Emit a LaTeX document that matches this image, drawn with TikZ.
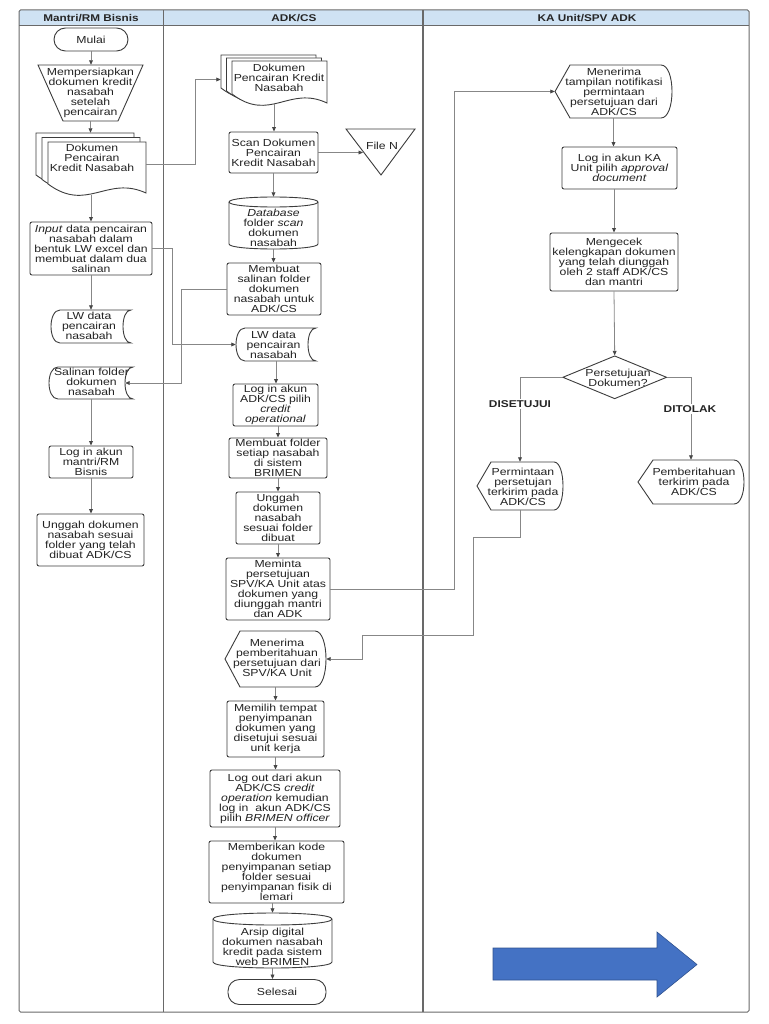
\documentclass[tikz,border=0pt]{standalone}
\usepackage{fontspec}
\setmainfont{Liberation Sans}[FakeStretch=1.2]
\usetikzlibrary{arrows.meta,calc,shapes.geometric}
\definecolor{headc}{RGB}{207,226,243}
\definecolor{framec}{RGB}{105,105,105}
\definecolor{boxc}{RGB}{60,60,60}
\definecolor{linec}{RGB}{135,135,135}
\definecolor{tipc}{RGB}{70,70,70}
\definecolor{bluef}{RGB}{68,114,196}
\definecolor{blued}{RGB}{47,82,143}
\definecolor{txtc}{RGB}{35,35,35}
\newcommand\shpdoc[4]{%
 \draw[shp] (#1,#2) -- (#3,#2) -- (#3,#4) .. controls ({#3-0.4*(#3-#1)},{#4-18}) and ({#1+0.4*(#3-#1)},{#4+20}) .. (#1,{#4-9}) -- cycle;}
\newcommand\shpmulti[6]{%
 \pgfmathsetmacro\rsA{#1-2*#5}\pgfmathsetmacro\rsB{#2-2*#6}\pgfmathsetmacro\rsC{#3-2*#5}\pgfmathsetmacro\rsD{#4-2*#6}%
 \shpdoc{\rsA}{\rsB}{\rsC}{\rsD}%
 \pgfmathsetmacro\rsA{#1-#5}\pgfmathsetmacro\rsB{#2-#6}\pgfmathsetmacro\rsC{#3-#5}\pgfmathsetmacro\rsD{#4-#6}%
 \shpdoc{\rsA}{\rsB}{\rsC}{\rsD}%
 \shpdoc{#1}{#2}{#3}{#4}}
\newcommand\shpstored[4]{%
 \draw[shp] ({#1+9},#2) -- (#3,#2) .. controls ({#3-10.67},#2) and ({#3-10.67},#4) .. (#3,#4) -- ({#1+9},#4) .. controls ({#1-3},#4) and ({#1-3},#2) .. cycle;}
\newcommand\shpdisplay[6]{%
 \draw[shp] (#1,{(#2+#4)/2}) -- ({#1+#5},#2) -- ({#3-#6},#2) .. controls ({#3+#6/3},#2) and ({#3+#6/3},#4) .. ({#3-#6},#4) -- ({#1+#5},#4) -- cycle;}
\newcommand\shpcyl[5]{%
 \draw[shp] (#1,{#2+#5}) .. controls (#1,{#2-#5/3}) and (#3,{#2-#5/3}) .. (#3,{#2+#5}) -- (#3,{#4-#5}) .. controls (#3,{#4+#5/3}) and (#1,{#4+#5/3}) .. (#1,{#4-#5}) -- cycle;
 \draw[shp, fill=none] (#1,{#2+#5}) .. controls (#1,{#2+#5*7/3}) and (#3,{#2+#5*7/3}) .. (#3,{#2+#5});}
\begin{document}
\begin{tikzpicture}[x=1pt,y=-1pt,
 every node/.style={text=txtc, font=\fontsize{10.2}{10}\selectfont},
 box/.style={draw=boxc, line width=0.9pt, rounded corners=2pt, fill=white, align=center, inner sep=0pt},
 txt/.style={align=center, inner sep=0pt},
 ghost/.style={inner sep=0pt, draw=none},
 shp/.style={draw=boxc, line width=0.9pt, fill=white},
 conn/.style={draw=linec, line width=0.8pt, -{Triangle[length=4.5pt,width=3.8pt,color=tipc]}},
 term/.style={box, rounded corners=11.5pt},
 lbl/.style={font=\bfseries\fontsize{9.9}{10}\selectfont, fill=white, inner sep=1.5pt, text=black!85},
 hdr/.style={font=\bfseries\fontsize{9.8}{10}\selectfont, text=black!85, inner sep=0pt}
]
\useasboundingbox (0,0) rectangle (768,1024);
% frame
\fill[headc] (19,10) rectangle (749,26);
\draw[framec, line width=1pt, rounded corners=1.5pt] (19,10) rectangle (749,1012);
\draw[framec, line width=1pt] (19,26) -- (749,26);
\draw[framec, line width=1pt] (163,10) -- (163,1012);
\draw[framec, line width=1.2pt] (423,10) -- (423,1012);
\node[hdr] (h1) at (91,18) {Mantri/RM Bisnis};
\node[hdr] (h2) at (294,18) {ADK/CS};
\node[hdr] (h3) at (587,18) {KA Unit/SPV ADK};

% ---- column 1
\node[term, minimum width=74pt, minimum height=23pt] (mulai) at (91,39.5) {Mulai};
\draw[shp] (38,65) -- (143,65) -- (118,121) -- (63,121) -- cycle;
\node[ghost, align=center, minimum width=105pt, minimum height=56pt] (prep) at (90.5,93) {Mempersiapkan\\dokumen kredit\\nasabah\\setelah\\pencairan};
\shpmulti{48}{142}{146}{193}{6}{4.5}
\node[ghost, minimum width=110pt, minimum height=62pt] (doc1) at (91,164) {};
\node[txt] (doc1t) at (92,158) {Dokumen\\Pencairan\\Kredit Nasabah};
\node[box, minimum width=122pt, minimum height=53pt] (input) at (91,248.5) {\textit{Input} data pencairan\\nasabah dalam\\bentuk LW excel dan\\membuat dalam dua\\salinan};
\shpstored{51}{310}{131}{343}
\node[ghost, minimum width=80pt, minimum height=33pt] (lw1) at (91,326.5) {};
\node[txt] (lw1t) at (89,326) {LW data\\pencairan\\nasabah};
\shpstored{49}{367}{133}{399}
\node[ghost, minimum width=84pt, minimum height=32pt] (salin1) at (91,383) {};
\node[txt] (salin1t) at (91.5,382) {Salinan folder\\dokumen\\nasabah};
\node[box, minimum width=84pt, minimum height=32pt] (login1) at (91,462) {Log in akun\\mantri/RM\\Bisnis};
\node[box, minimum width=107pt, minimum height=52pt] (unggah1) at (90.5,540) {Unggah dokumen\\nasabah sesuai\\folder yang telah\\dibuat ADK/CS};

% ---- column 2
\shpmulti{232}{61}{327}{103}{5.5}{3}
\node[ghost, minimum width=106pt, minimum height=49pt] (doc2) at (274,79.5) {};
\node[txt] (doc2t) at (279,78) {Dokumen\\Pencairan Kredit\\Nasabah};
\node[box, minimum width=89pt, minimum height=41pt] (scan) at (273.5,152.5) {Scan Dokumen\\Pencairan\\Kredit Nasabah};
\draw[shp] (346,129) -- (415,129) -- (381,175) -- cycle;
\node[txt] (fileN) at (382,146) {File N};
\coordinate (fileNin) at (363,152.5);
\shpcyl{229}{197}{318}{249}{5}
\node[ghost, minimum width=89pt, minimum height=52pt] (db) at (273.5,223) {};
\node[txt] (dbt) at (273.5,227.5) {\textit{Database}\\folder \textit{scan}\\dokumen\\nasabah};
\node[box, minimum width=94pt, minimum height=52pt] (salin) at (274,289) {Membuat\\salinan folder\\dokumen\\nasabah untuk\\ADK/CS};
\shpstored{236}{328}{316}{361}
\node[ghost, minimum width=80pt, minimum height=33pt] (lw2) at (276,344.5) {};
\node[txt] (lw2t) at (273.5,344.5) {LW data\\pencairan\\nasabah};
\node[box, minimum width=85pt, minimum height=42pt] (login2) at (275.5,405) {Log in akun\\ADK/CS pilih\\\textit{credit}\\\textit{operational}};
\node[box, minimum width=98pt, minimum height=40pt] (folder) at (278,458) {Membuat folder\\setiap nasabah\\di sistem\\BRIMEN};
\node[box, minimum width=84pt, minimum height=52pt] (unggah2) at (278,518) {Unggah\\dokumen\\nasabah\\sesuai folder\\dibuat};
\node[box, minimum width=104pt, minimum height=62pt] (minta) at (278,589) {Meminta\\persetujuan\\SPV/KA Unit atas\\dokumen yang\\diunggah mantri\\dan ADK};
\shpdisplay{225}{631}{326}{687}{15}{11}
\node[ghost, minimum width=101pt, minimum height=56pt] (terima) at (275.5,659) {};
\node[txt] (terimat) at (277,658) {Menerima\\pemberitahuan\\persetujuan dari\\SPV/KA Unit};
\node[box, minimum width=97pt, minimum height=56pt] (memilih) at (275.5,729) {Memilih tempat\\penyimpanan\\dokumen yang\\disetujui sesuai\\unit kerja};
\node[box, minimum width=130pt, minimum height=57pt] (logout) at (275,798.5) {Log out dari akun\\ADK/CS \textit{credit}\\\textit{operation} kemudian\\log in\ \ akun ADK/CS\\pilih \textit{BRIMEN officer}};
\node[box, minimum width=135pt, minimum height=62pt] (beri) at (276.5,872) {Memberikan kode\\dokumen\\penyimpanan setiap\\folder sesuai\\penyimpanan fisik di\\lemari};
\shpcyl{213}{913}{332}{968}{6}
\node[ghost, minimum width=119pt, minimum height=55pt] (arsip) at (272.5,940.5) {};
\node[txt] (arsipt) at (272.5,947) {Arsip digital\\dokumen nasabah\\kredit pada sistem\\web BRIMEN};
\node[term, minimum width=98pt, minimum height=25pt] (selesai) at (277,992) {Selesai};

% ---- column 3
\shpdisplay{555}{65}{672}{118}{15}{11}
\node[ghost, minimum width=117pt, minimum height=53pt] (notif) at (613.5,91.5) {};
\node[txt] (notift) at (614,92) {Menerima\\tampilan notifikasi\\permintaan\\persetujuan dari\\ADK/CS};
\node[box, minimum width=115pt, minimum height=42pt] (loginKA) at (619.5,168) {Log in akun KA\\Unit pilih \textit{approval}\\\textit{document}};
\node[box, minimum width=128pt, minimum height=58pt] (cek) at (614,262) {Mengecek\\kelengkapan dokumen\\yang telah diunggah\\oleh 2 staff ADK/CS\\dan mantri};
\node[shape=diamond, draw=boxc, line width=0.9pt, fill=white, inner sep=0pt, minimum width=104pt, minimum height=43pt] (dia) at (614.7,377.3) {};
\node[txt] (diat) at (618,377.5) {Persetujuan\\Dokumen?};
\shpdisplay{477}{462}{563}{510}{14}{9}
\node[ghost, minimum width=86pt, minimum height=48pt] (perm) at (520,486) {};
\node[txt] (permt) at (523,487) {Permintaan\\persetujan\\terkirim pada\\ADK/CS};
\shpdisplay{638}{460}{744}{504}{15}{10}
\node[ghost, minimum width=106pt, minimum height=44pt] (tolak) at (691,482) {};
\node[txt] (tolakt) at (694,481.5) {Pemberitahuan\\terkirim pada\\ADK/CS};
\draw[fill=bluef, draw=blued, line width=0.6pt] (493,948) -- (657,948) -- (657,932) -- (697,964.5) -- (657,997) -- (657,980) -- (493,980) -- cycle;

% ---- connectors
\draw[conn] (mulai.south) -- (mulai.south |- prep.north);
\draw[conn] (prep.south) -- (prep.south |- doc1.north);
\draw[conn] (doc1.south) -- (doc1.south |- input.north);
\draw[conn] (input.south) -- (input.south |- lw1.north);
\draw[conn] (salin1.south) -- (salin1.south |- login1.north);
\draw[conn] (login1.south) -- (login1.south |- unggah1.north);
\draw[conn] (doc1.east) -- ++(49.5,0) |- (doc2.west);
\draw[conn] (doc2.south) -- (doc2.south |- scan.north);
\draw[conn] (scan.east) -- (fileNin);
\draw[conn] (scan.south) -- (scan.south |- db.north);
\draw[conn] (db.south) -- (db.south |- salin.north);
\draw[conn] (input.east) -- ++(20,0) |- (lw2.west);
\draw[conn] (salin.west) -- ++(-45,0) |- ($(salin1.east)+(-8,0)$);
\draw[conn] (lw2.south) -- (lw2.south |- login2.north);
\draw[conn] (folder.north |- login2.south) -- (folder.north);
\draw[conn] (folder.south) -- (folder.south |- unggah2.north);
\draw[conn] (unggah2.south) -- (unggah2.south |- minta.north);
\draw[conn] (minta.east) -- ++(124,0) |- (notif.west);
\draw[conn] (perm.south) -- ++(0,27) -- ++(-47,0) -- ++(0,98) -- ++(-111,0) |- (terima.east);
\draw[conn] (terima.south) -- (terima.south |- memilih.north);
\draw[conn] (memilih.south) -- (memilih.south |- logout.north);
\draw[conn] (logout.south) -- (logout.south |- beri.north);
\draw[conn] (arsip.north |- beri.south) -- (arsip.north);
\draw[conn] (arsip.south) -- (arsip.south |- selesai.north);
\draw[conn] (notif.south) -- (notif.south |- loginKA.north);
\draw[conn] (cek.north |- loginKA.south) -- (cek.north);
\draw[conn] (cek.south) -- (dia.north);
\draw[conn] (dia.west) -| (perm.north);
\draw[conn] (dia.east) -| (tolak.north);
\node[lbl] (lblA) at (520,404) {DISETUJUI};
\node[lbl] (lblB) at (690,409) {DITOLAK};
\end{tikzpicture}
\end{document}
